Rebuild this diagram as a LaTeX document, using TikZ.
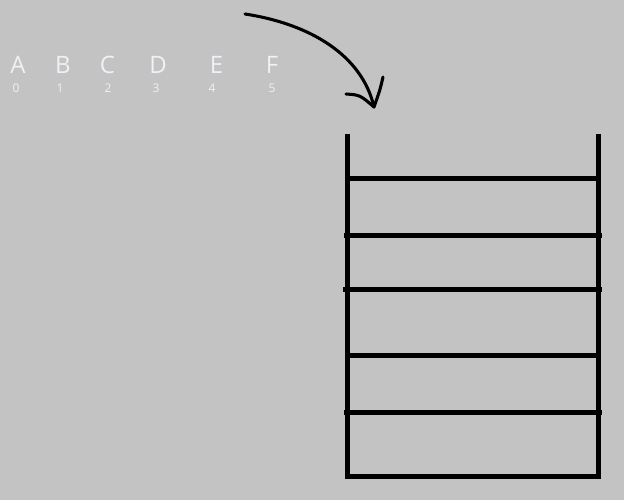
\documentclass[tikz,border=0pt]{standalone}
\usepackage{fontspec}
\setmainfont{Open Sans}
\usetikzlibrary{calc}

\definecolor{bg}{RGB}{195,195,195}
\definecolor{chalk}{RGB}{240,240,248}

\begin{document}
\begin{tikzpicture}[x=0.75pt,y=-0.75pt,
  letter/.style={text=chalk,font=\fontsize{18}{18}\selectfont,inner sep=0pt,anchor=base},
  index/.style={text=chalk,font=\fontsize{9}{9}\selectfont,inner sep=0pt,anchor=base},
  wall/.style={line width=3.75pt},
  pen/.style={line width=2.3pt,line cap=round,line join=round}]
  \fill[bg] (0,0) rectangle (624,500);
  % letters and their indices
  \node[letter] (A) at (18,73) {A};
  \node[letter] (B) at (63,73) {B};
  \node[letter] (C) at (107.5,73) {C};
  \node[letter] (D) at (158,73) {D};
  \node[letter] (E) at (216.5,73) {E};
  \node[letter] (F) at (272,73) {F};
  \node[index] (i0) at (16,92) {0};
  \node[index] (i1) at (60,92) {1};
  \node[index] (i2) at (108,92) {2};
  \node[index] (i3) at (156,92) {3};
  \node[index] (i4) at (212,92) {4};
  \node[index] (i5) at (272,92) {5};
  % the curved arrow
  \coordinate (start) at (245,14);
  \coordinate (tip) at (374,107);
  \coordinate (armL) at (346,94);
  \coordinate (armR) at (383,77);
  \draw[pen] (start) .. controls (310,24) and (362,55) .. (tip);
  \draw[pen] (armL) .. controls (360,95) .. (tip) .. controls (380,90) .. (armR);
  % the stack
  \coordinate (topL) at (347.5,134);
  \coordinate (topR) at (598.5,134);
  \coordinate (botL) at (347.5,476.5);
  \coordinate (botR) at (598.5,476.5);
  \draw[wall] (topL) -- (botL) -- (botR) -- (topR);
  \draw[wall] (347.5,178.5) -- (598.5,178.5);
  \draw[wall] (344,235.5) -- (602,235.5);
  \draw[wall] (343,289.5) -- (602,289.5);
  \draw[wall] (347.5,355.5) -- (598.5,355.5);
  \draw[wall] (344,412.5) -- (602,412.5);
\end{tikzpicture}
\end{document}
